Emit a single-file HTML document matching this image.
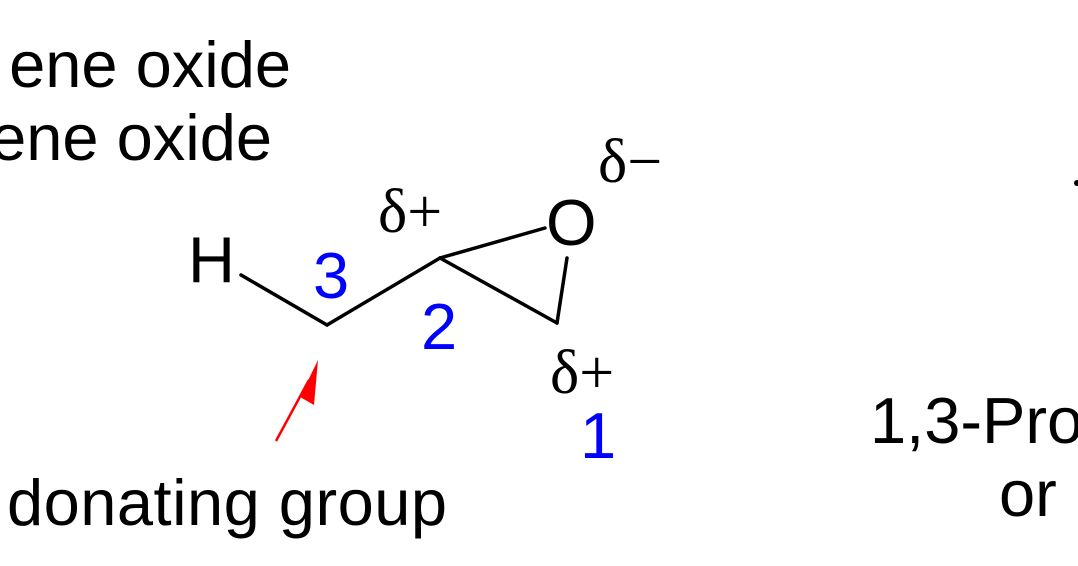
<!DOCTYPE html>
<html><head><style>body{margin:0;background:#fff;}svg{display:block}</style></head><body>
<svg width="1078" height="566" viewBox="0 0 1078 566" xmlns="http://www.w3.org/2000/svg">
<g font-family="Liberation Sans, sans-serif" font-size="65" fill="#000">
<text x="291" y="87" text-anchor="end">ene oxide</text>
<text x="272" y="160" text-anchor="end">ene oxide</text>
<text x="188" y="282">H</text>
<text x="546" y="245">O</text>
<text x="7" y="525" textLength="440">donating group</text>
<text x="870" y="443">1,3-Pro</text>
<text x="999" y="516">or</text>
</g>
<g font-family="Liberation Sans, sans-serif" font-size="65" fill="#0000ff">
<text x="313" y="298">3</text>
<text x="421" y="349">2</text>
<text x="580" y="458">1</text>
</g>
<g font-family="Liberation Serif, serif" font-size="62" fill="#000">
<text x="378" y="232">δ+</text>
<text x="598" y="182">δ−</text>
<text x="550" y="393">δ+</text>
</g>
<g stroke="#000" stroke-width="3.5" fill="none" stroke-linecap="round">
<line x1="241" y1="275" x2="327" y2="325"/>
<line x1="327" y1="325" x2="440" y2="258"/>
<line x1="440" y1="258" x2="545" y2="228"/>
<line x1="440" y1="258" x2="557" y2="323"/>
<line x1="557" y1="323" x2="567" y2="258"/>
</g>
<line x1="276" y1="441" x2="309" y2="380" stroke="#ff0000" stroke-width="2.5"/>
<polygon points="318,360 314,405 300,397" fill="#ff0000"/>
<circle cx="1077" cy="183" r="3" fill="#000"/>
</svg>
</body></html>
